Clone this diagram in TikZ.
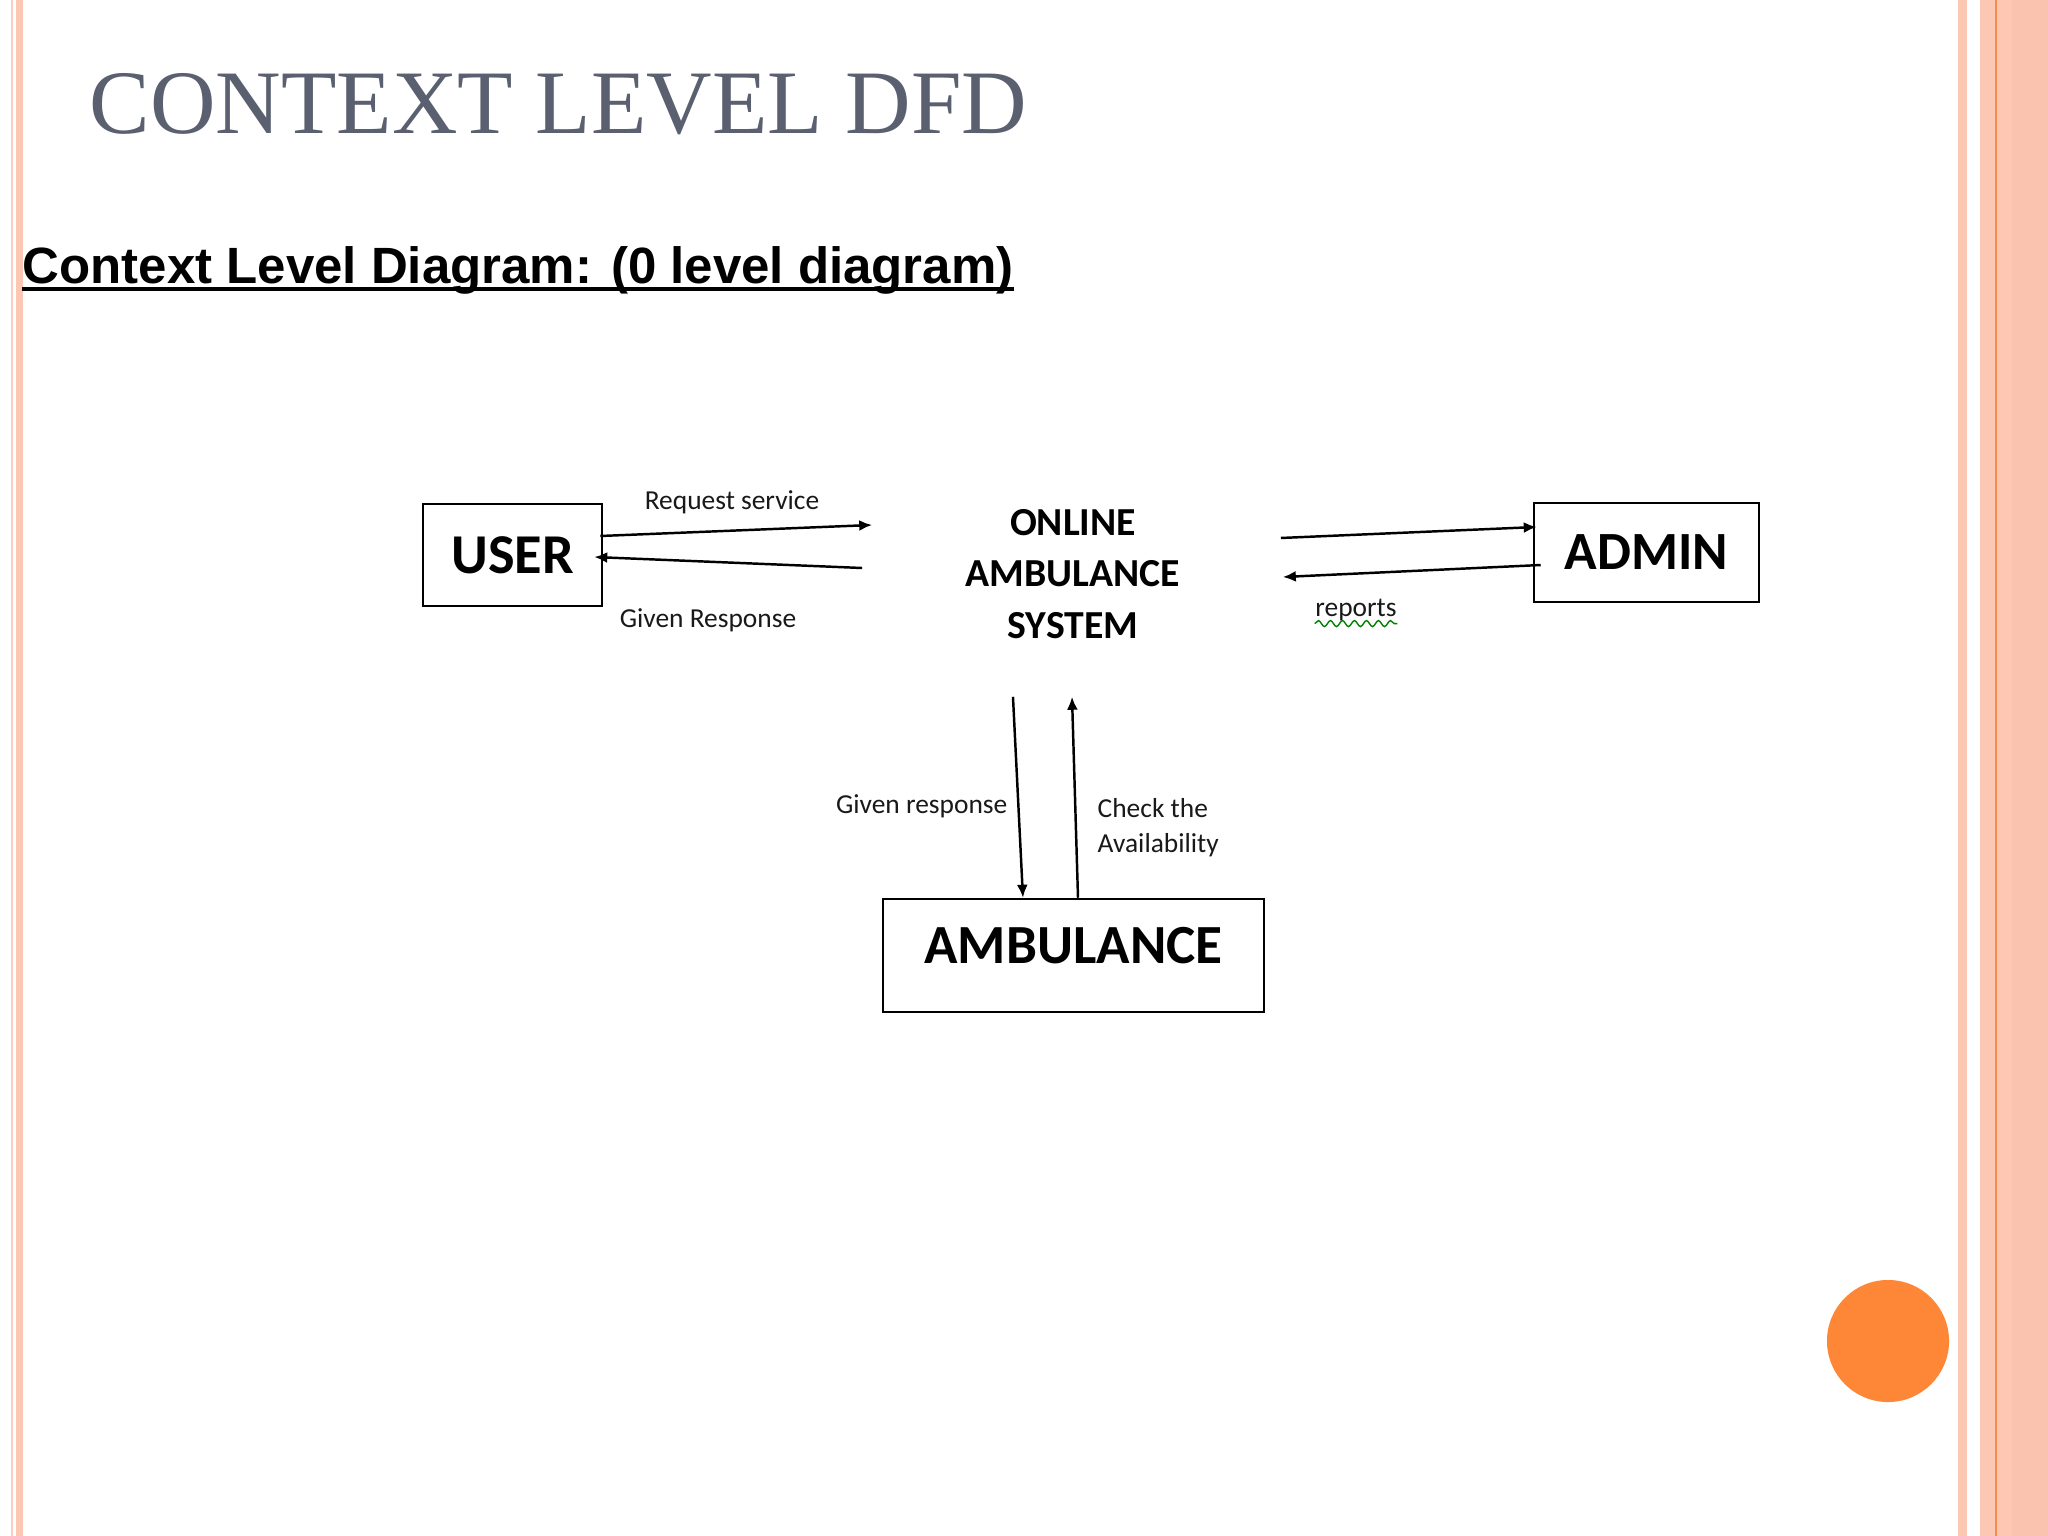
\documentclass[tikz,border=0pt]{standalone}
\usepackage{fontspec}
\setmainfont{Liberation Serif}
\newfontfamily\carlito{Carlito}
\newfontfamily\arialfont{Liberation Sans}
\usetikzlibrary{positioning, arrows.meta, decorations.pathmorphing}
\definecolor{titlegray}{RGB}{90,96,112}
\definecolor{stripelight}{RGB}{250,205,195}
\definecolor{stripepink}{RGB}{252,200,180}
\definecolor{stripedeep}{RGB}{250,195,175}
\definecolor{stripeorange}{RGB}{245,140,80}
\definecolor{dotorange}{RGB}{253,134,55}

\begin{document}
\begin{tikzpicture}[
    x=0.01cm, y=-0.01cm,
    entity/.style={rectangle, draw, line width=0.7pt, inner sep=0pt, font=\carlito\bfseries\fontsize{16}{19}\selectfont},
    flowlabel/.style={inner sep=0pt, text=black!90, font=\carlito\fontsize{7.8}{10}\selectfont},
    arrow/.style={-{Latex[length=1.3mm, width=1.1mm]}, line width=0.7pt}
]
    \fill[white] (0,0) rectangle (2048,1536);
    \useasboundingbox (0,0) rectangle (2048,1536);
    \fill[stripelight] (11,0) rectangle (13,1536);
    \fill[stripepink] (16,0) rectangle (23,1536);
    \fill[stripepink] (1958,0) rectangle (1967,1536);
    \fill[stripepink] (1980,0) rectangle (2048,1536);
    \fill[stripeorange] (1995,0) rectangle (1997,1536);
    \fill[stripedeep] (2012,0) rectangle (2048,1536);
    \fill[dotorange] (1888,1341) circle [radius=0.61cm];

    \node[anchor=base west, inner sep=0pt, text=titlegray, font=\fontsize{25.8}{30}\selectfont] (title) at (89,133) {CONTEXT LEVEL DFD};
    \node[anchor=base west, inner sep=0pt, font=\arialfont\bfseries\fontsize{14.5}{17}\selectfont] (subtitle) at (22,283) {Context Level Diagram: (0 level diagram)};
    \draw[line width=0.9pt] ([yshift=-0.06cm]subtitle.base west) -- ([yshift=-0.06cm]subtitle.base east);

    \node[entity, minimum width=1.79cm, minimum height=1.02cm] (user) at (512.5,555) {USER};
    \node[entity, minimum width=2.25cm, minimum height=0.99cm, font=\carlito\bfseries\fontsize{15.3}{18}\selectfont] (admin) at (1646.5,552.5) {ADMIN};
    \node[entity, minimum width=3.81cm, minimum height=1.13cm, text height=0.36cm, text depth=0.21cm, font=\carlito\bfseries\fontsize{15.7}{18}\selectfont] (ambulance) at (1073.5,955.5) {AMBULANCE};
    \node[inner sep=0pt, minimum width=4.1cm, minimum height=2.44cm, align=center, font=\carlito\bfseries\fontsize{11.3}{14.6}\selectfont] (system) at (1073,574) {ONLINE\\AMBULANCE\\SYSTEM};

    \node[flowlabel] (reqlabel) at (732,502) {Request service};
    \node[flowlabel] (resplabel) at (708,620) {Given Response};
    \node[flowlabel] (reports) at (1356,610) {reports};
    \node[flowlabel, anchor=east] (givenlabel) at (1008,806) {Given response};
    \node[flowlabel, anchor=north west, align=left] (checklabel) at (1097,798) {Check the\\Availability};
    \draw[green!50!black, line width=0.4pt, decorate, decoration={snake, amplitude=0.3mm, segment length=1.2mm}] ([yshift=-0.02cm]reports.south west) -- ([yshift=-0.02cm]reports.south east);

    \draw[arrow] ([xshift=-0.03cm, yshift=0.19cm]user.east) -- ([xshift=0.05cm, yshift=0.49cm]system.west);
    \draw[arrow] ([xshift=-0.05cm, yshift=0.06cm]system.west) -- ([xshift=-0.09cm, yshift=-0.02cm]user.east);
    \draw[arrow] ([yshift=0.36cm, xshift=0.02cm]system.east) -- ([xshift=0.04cm, yshift=0.255cm]admin.west);
    \draw[arrow] ([xshift=0.08cm, yshift=-0.125cm]admin.west) -- ([xshift=0.04cm, yshift=-0.03cm]system.east);
    \draw[arrow] ([xshift=-0.6cm]system.south) -- ([xshift=-0.505cm]ambulance.north);
    \draw[arrow] ([xshift=0.045cm]ambulance.north) -- ([xshift=-0.01cm]system.south);
\end{tikzpicture}
\end{document}
